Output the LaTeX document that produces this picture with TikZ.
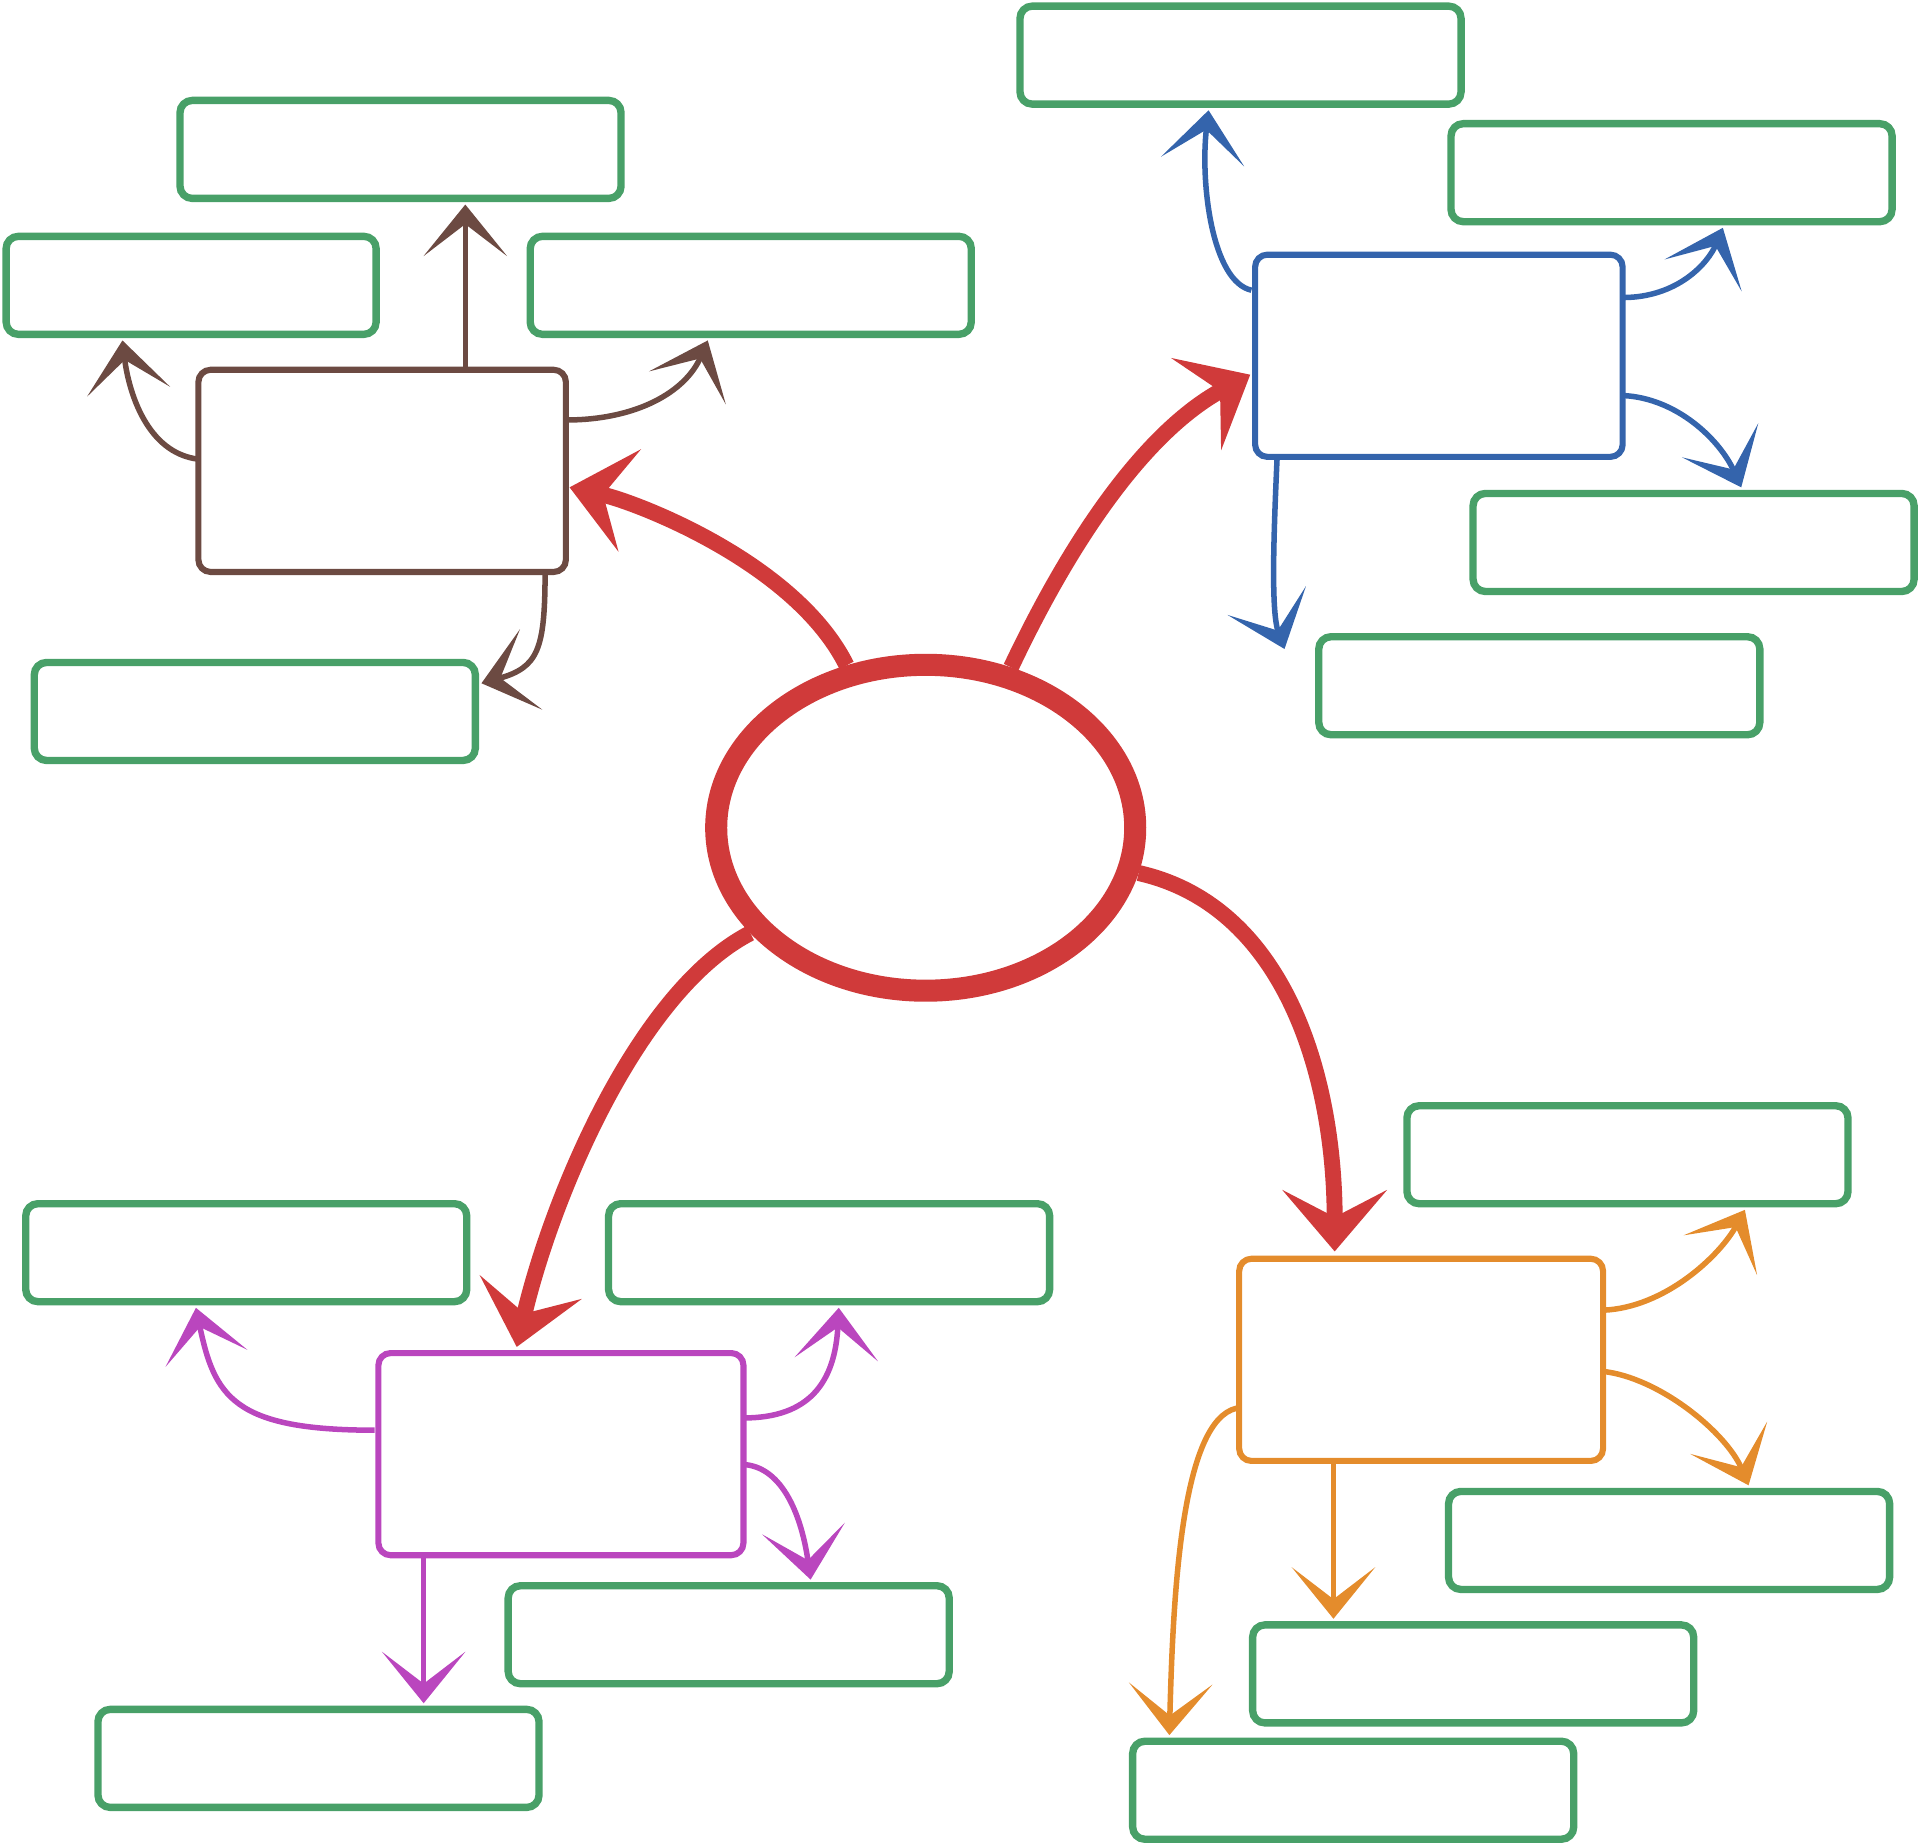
\documentclass[tikz,border=0pt]{standalone}
\usetikzlibrary{arrows.meta,calc,shapes.geometric}
\definecolor{gr}{RGB}{72,160,104}
\definecolor{rd}{RGB}{208,58,58}
\definecolor{bl}{RGB}{52,100,172}
\definecolor{br}{RGB}{108,74,66}
\definecolor{pu}{RGB}{186,70,190}
\definecolor{orr}{RGB}{228,140,44}
\tikzset{
 bx/.style={draw,rounded corners=0.1cm,line width=0.06cm,anchor=north west,inner sep=0,outer sep=0,minimum width=3.6cm,minimum height=0.8cm},
 gbox/.style={bx,draw=gr},
 cbox/.style={bx,minimum width=3cm,minimum height=1.65cm,line width=0.05cm},
 thin/.style={line width=0.045cm,-{Stealth[length=0.42cm,width=0.68cm,inset=0.26cm]}},
 big/.style={draw=rd,line width=0.13cm,-{Stealth[length=0.5cm,width=0.85cm,inset=0.22cm]}}
}
\begin{document}
\begin{tikzpicture}[x=0.01cm,y=-0.01cm]
\useasboundingbox (0,0) rectangle (1568,1506);
\node[gbox] (g1) at (833,5) {};
\node[gbox] (g2) at (1185,101) {};
\node[gbox] (g3) at (1203,403) {};
\node[gbox] (g4) at (1077,520) {};
\node[gbox] (g5) at (147,82) {};
\node[gbox,minimum width=3.02cm] (g6) at (5,193) {};
\node[gbox] (g7) at (433,193) {};
\node[gbox] (g8) at (28,541) {};
\node[gbox] (g9) at (1149,903) {};
\node[gbox] (g10) at (1183,1218) {};
\node[gbox] (g11) at (1023,1327) {};
\node[gbox] (g12) at (925,1422) {};
\node[gbox] (g13) at (21,983) {};
\node[gbox] (g14) at (497,983) {};
\node[gbox] (g15) at (415,1295) {};
\node[gbox] (g16) at (80,1396) {};
\node[cbox,draw=bl] (b) at (1025,208) {};
\node[cbox,draw=br] (w) at (162,302) {};
\node[cbox,draw=pu,minimum width=2.98cm] (p) at (309,1105) {};
\node[cbox,draw=orr,minimum width=2.97cm] (o) at (1012,1028) {};
\node[draw=rd,line width=0.18cm,ellipse,minimum width=3.42cm,minimum height=2.66cm,inner sep=0] (e) at (756,676) {};
% red
\draw[big] (e.116) .. controls (650,460) and (520,410) .. ($(w.north east)+(3,96)$);
\draw[big] (e.62) .. controls (880,430) and (940,350) .. ($(b.north west)+(-4,98)$);
\draw[big] (e.211) .. controls (520,810) and (450,980) .. ($(p.north west)+(113,-5)$);
\draw[big] (e.-12) .. controls (1050,740) and (1090,880) .. ($(o.north west)+(78,-6)$);
% brown
\draw[thin,br] ($(w.north west)+(218,0)$) -- ($(g5.south west)+(233,5)$);
\draw[thin,br] ($(w.north west)+(0,73)$) .. controls (120,370) and (105,320) .. ($(g6.south west)+(95,5)$);
\draw[thin,br] ($(w.north east)+(0,41)$) .. controls (520,343) and (560,320) .. ($(g7.south west)+(145,5)$);
\draw[thin,br] ($(w.south east)+(-17,0)$) .. controls (445,530) and (440,545) .. ($(g8.north east)+(5,17)$);
% blue
\draw[thin,bl] ($(b.north west)+(-3,29)$) .. controls (990,230) and (980,150) .. ($(g1.south west)+(154,5)$);
\draw[thin,bl] ($(b.north east)+(0,35)$) .. controls (1370,243) and (1395,215) .. ($(g2.south west)+(222,5)$);
\draw[thin,bl] ($(b.north east)+(0,115)$) .. controls (1370,325) and (1405,360) .. ($(g3.north west)+(219,-5)$);
\draw[thin,bl] ($(b.south west)+(18,0)$) .. controls (1040,440) and (1038,500) .. ($(g4.north west)+(-28,10)$);
% purple
\draw[thin,pu] ($(p.north west)+(-3,63)$) .. controls (190,1168) and (175,1140) .. ($(g13.south west)+(139,5)$);
\draw[thin,pu] ($(p.north east)+(0,53)$) .. controls (660,1158) and (682,1130) .. ($(g14.south west)+(188,5)$);
\draw[thin,pu] ($(p.north east)+(0,91)$) .. controls (640,1198) and (655,1240) .. ($(g15.north west)+(247,-5)$);
\draw[thin,pu] ($(p.south west)+(37,0)$) -- ($(g16.north west)+(266,-5)$);
% orange
\draw[thin,orr] ($(o.north east)+(0,42)$) .. controls (1360,1068) and (1405,1025) .. ($(g9.south west)+(276,5)$);
\draw[thin,orr] ($(o.north east)+(0,92)$) .. controls (1355,1125) and (1410,1170) .. ($(g10.north west)+(245,-5)$);
\draw[thin,orr] ($(o.south west)+(77,0)$) -- ($(g11.north west)+(66,-5)$);
\draw[thin,orr] ($(o.north west)+(-2,122)$) .. controls (965,1160) and (958,1300) .. ($(g12.north west)+(30,-5)$);
\end{tikzpicture}
\end{document}
